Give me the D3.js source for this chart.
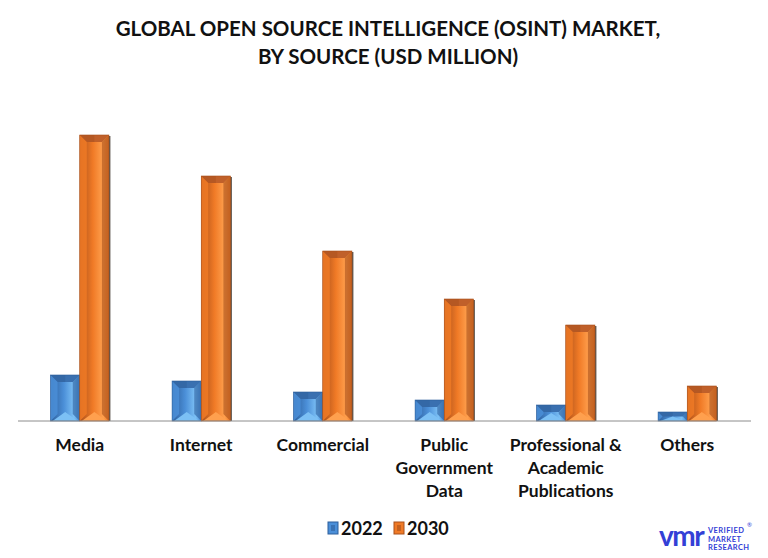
<!DOCTYPE html>
<html>
<head>
<meta charset="utf-8">
<script src="https://cdn.jsdelivr.net/npm/d3@7"></script>
<style>
  body { margin: 0; background: #fff; }
  svg { display: block; font-family: Lato, "Open Sans", sans-serif; }
</style>
</head>
<body>
<div id="chart"></div>
<script>
const categories = [['Media'], ['Internet'], ['Commercial'], ['Public', 'Government', 'Data'],
  ['Professional &', 'Academic', 'Publications'], ['Others']];
const years = ['2022', '2030'];
const values2022 = [460, 400, 290, 210, 160, 90];
const values2030 = [2860, 2450, 1700, 1220, 960, 350];

const width = 768, height = 558;
const margin = { top: 121, right: 20, bottom: 137, left: 19 };
const innerHeight = height - margin.top - margin.bottom;

const palette = {
  '2022': { base: '#4b8fd8', dark: '#2d5f9c', light: '#7cc0f5', top: '#3a70b0' },
  '2030': { base: '#f07a26', dark: '#a9501b', light: '#ffa04e', top: '#c0602a' }
};

const svg = d3.select('#chart').append('svg')
  .attr('width', width)
  .attr('height', height);

// title
const title = svg.append('text')
  .attr('text-anchor', 'middle')
  .attr('font-weight', 'bold')
  .attr('font-size', 20.5)
  .attr('fill', '#111');
title.append('tspan').attr('x', 388).attr('y', 36).text('GLOBAL OPEN SOURCE INTELLIGENCE (OSINT) MARKET,');
title.append('tspan').attr('x', 388).attr('y', 64).text('BY SOURCE (USD MILLION)');

const g = svg.append('g').attr('transform', `translate(${margin.left},${margin.top})`);

const x0 = d3.scaleBand()
  .domain(d3.range(categories.length))
  .range([0, width - margin.left - margin.right])
  .paddingInner(0.52)
  .paddingOuter(0.26);

const x1 = d3.scaleBand().domain(years).range([0, x0.bandwidth()]);

const y = d3.scaleLinear().domain([0, 3000]).range([innerHeight, 0]);

const rows = [];
categories.forEach((c, i) => {
  rows.push({ i, year: '2022', value: values2022[i] });
  rows.push({ i, year: '2030', value: values2030[i] });
});

// gradient for the middle of each bar
const defs = svg.append('defs');
years.forEach(yr => {
  const p = palette[yr];
  const grad = defs.append('linearGradient').attr('id', 'grad' + yr)
    .attr('x1', 0).attr('x2', 1).attr('y1', 0).attr('y2', 0);
  grad.append('stop').attr('offset', '0%').attr('stop-color', p.dark);
  grad.append('stop').attr('offset', '45%').attr('stop-color', p.base);
  grad.append('stop').attr('offset', '80%').attr('stop-color', p.light);
  grad.append('stop').attr('offset', '100%').attr('stop-color', p.base);
});

const bars = g.selectAll('.bar')
  .data(rows)
  .enter()
  .append('g')
  .attr('class', 'bar');

bars.each(function(d) {
  const el = d3.select(this);
  const p = palette[d.year];
  const bx = x0(d.i) + x1(d.year);
  const bw = x1.bandwidth();
  const by = y(d.value);
  const bh = innerHeight - by;
  const b = Math.min(7, bh / 2, bw / 2);
  const tri = Math.min(9, bh / 2);

  // dark edge on right side
  el.append('rect')
    .attr('x', bx + 1.5).attr('y', by + 1)
    .attr('width', bw).attr('height', bh - 1)
    .attr('fill', '#2a1d14').attr('opacity', 0.75);

  el.append('rect')
    .attr('x', bx).attr('y', by)
    .attr('width', bw).attr('height', bh)
    .attr('fill', `url(#grad${d.year})`);

  const poly = pts => pts.map(q => q.join(',')).join(' ');
  // top bevel
  el.append('polygon')
    .attr('points', poly([[bx, by], [bx + bw, by], [bx + bw - b, by + b], [bx + b, by + b]]))
    .attr('fill', p.top);
  el.append('polygon')
    .attr('points', poly([[bx, by], [bx + bw / 2, by], [bx + bw / 2, by + b], [bx + b, by + b]]))
    .attr('fill', p.dark).attr('opacity', 0.5);
  // left side
  el.append('polygon')
    .attr('points', poly([[bx, by], [bx + b, by + b], [bx + b, by + bh - b], [bx, by + bh]]))
    .attr('fill', p.base).attr('opacity', 0.85);
  // right side
  el.append('polygon')
    .attr('points', poly([[bx + bw, by], [bx + bw - b, by + b], [bx + bw - b, by + bh - b], [bx + bw, by + bh]]))
    .attr('fill', p.dark).attr('opacity', 0.6);
  // bottom triangle highlight
  el.append('polygon')
    .attr('points', poly([[bx + 2, by + bh], [bx + bw - 2, by + bh], [bx + bw / 2, by + bh - tri]]))
    .attr('fill', p.light);
  el.append('rect')
    .attr('x', bx).attr('y', by)
    .attr('width', bw).attr('height', bh)
    .attr('fill', 'none').attr('stroke', p.dark).attr('stroke-width', 0.6);
});

// baseline
g.append('line')
  .attr('x1', -1).attr('x2', width - margin.left - margin.right + 3)
  .attr('y1', innerHeight).attr('y2', innerHeight)
  .attr('stroke', '#8c8c8c').attr('stroke-width', 1);

// category labels
const labels = g.selectAll('.cat')
  .data(categories)
  .enter()
  .append('text')
  .attr('class', 'cat')
  .attr('text-anchor', 'middle')
  .attr('font-weight', 'bold')
  .attr('font-size', 17.5)
  .attr('fill', '#111');
labels.each(function(lines, i) {
  const t = d3.select(this);
  lines.forEach((ln, k) => {
    t.append('tspan')
      .attr('x', x0(i) + x0.bandwidth() / 2)
      .attr('y', innerHeight + 30 + k * 23)
      .text(ln);
  });
});

// legend
const legend = svg.append('g').attr('transform', 'translate(328,522)');
years.forEach((yr, k) => {
  const lg = legend.append('g').attr('transform', `translate(${k * 66},0)`);
  lg.append('rect').attr('x', 0).attr('y', 0).attr('width', 10).attr('height', 12)
    .attr('fill', palette[yr].base).attr('stroke', palette[yr].dark).attr('stroke-width', 1);
  lg.append('rect').attr('x', 3).attr('y', 3).attr('width', 4).attr('height', 6)
    .attr('fill', palette[yr].dark).attr('opacity', 0.6);
  lg.append('text').attr('x', 13).attr('y', 13)
    .attr('font-weight', 'bold').attr('font-size', 18).attr('fill', '#111')
    .text(yr);
});

// logo
const logo = svg.append('g').attr('transform', 'translate(659,527)');
logo.append('text').attr('x', 0).attr('y', 19)
  .attr('font-size', 28).attr('font-weight', 'bold')
  .attr('letter-spacing', -1.5)
  .attr('fill', '#3340d6')
  .text('vmr');
['VERIFIED', 'MARKET', 'RESEARCH'].forEach((w, k) => {
  logo.append('text').attr('x', 49).attr('y', 6 + k * 8.5)
    .attr('font-size', 7.5).attr('font-weight', 'bold')
    .attr('letter-spacing', 0.4)
    .attr('fill', '#3340d6')
    .text(w);
});
logo.append('text').attr('x', 88).attr('y', 0).attr('font-size', 6).attr('fill', '#3340d6').text('®');
</script>
</body>
</html>
